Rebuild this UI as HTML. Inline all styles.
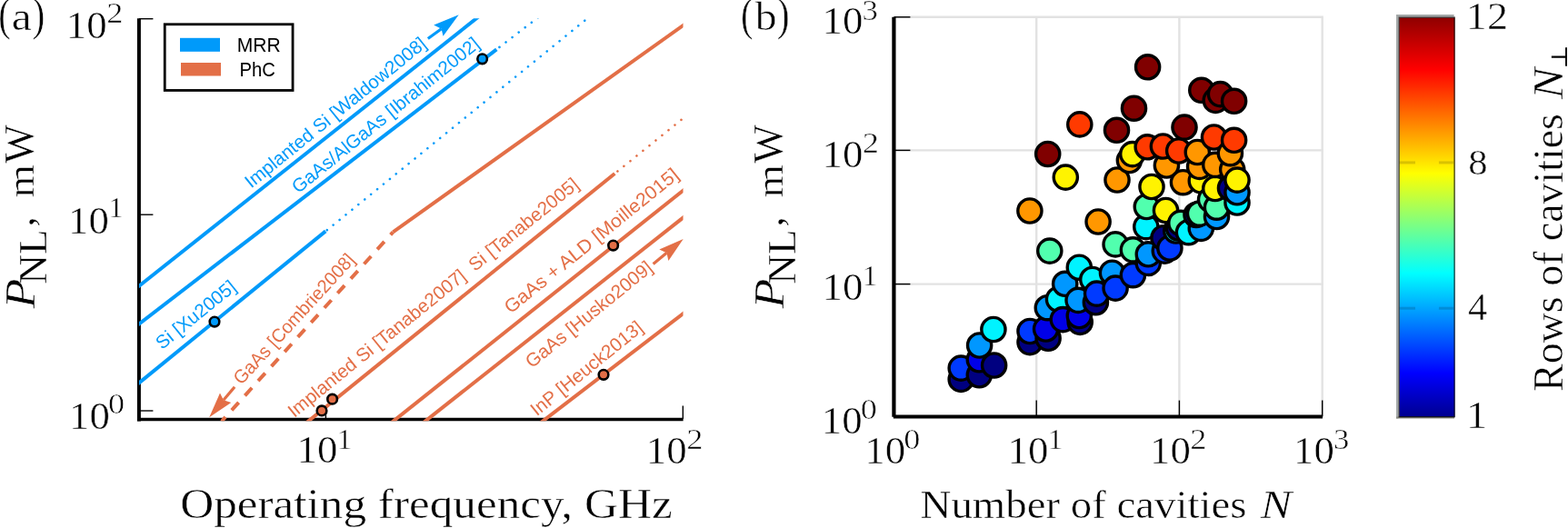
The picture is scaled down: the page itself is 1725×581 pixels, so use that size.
<!DOCTYPE html>
<html><head><meta charset="utf-8"><style>html,body{margin:0;padding:0;background:#fff;overflow:hidden}svg{display:block}</style></head><body>
<svg width="1725" height="581" viewBox="0 0 1725 581">
<rect width="1725" height="581" fill="#fff"/>
<defs><clipPath id="ca"><rect x="152.9" y="20.3" width="598.6" height="443"/></clipPath></defs>
<g stroke="#000">
<line x1="152.9" y1="20.3" x2="152.9" y2="463.5" stroke-width="4"/>
<line x1="151" y1="461.5" x2="751.6" y2="461.5" stroke-width="3.6"/>
<line x1="153" y1="20.7" x2="168.4" y2="20.7" stroke-width="1.4"/>
<line x1="153" y1="236.2" x2="168.4" y2="236.2" stroke-width="1.4"/>
<line x1="153" y1="452" x2="168.4" y2="452" stroke-width="1.4"/>
<line x1="358.4" y1="461" x2="358.4" y2="446.6" stroke-width="1.4"/>
<line x1="751.3" y1="461" x2="751.3" y2="446.6" stroke-width="1.4"/>
</g>
<g clip-path="url(#ca)" stroke-linecap="butt">
<line x1="134.24" y1="329.59" x2="542.59" y2="5.57" stroke="#009AFA" stroke-width="4"/>
<line x1="133.12" y1="371.72" x2="546.30" y2="54.30" stroke="#009AFA" stroke-width="4"/>
<line x1="546.30" y1="54.30" x2="606.30" y2="8.21" stroke="#009AFA" stroke-width="2.6" stroke-dasharray="0.01 8.9" stroke-dashoffset="-4" stroke-linecap="round"/>
<line x1="142.53" y1="429.75" x2="358.20" y2="254.40" stroke="#009AFA" stroke-width="4"/>
<line x1="358.20" y1="254.40" x2="658.20" y2="10.49" stroke="#009AFA" stroke-width="2.6" stroke-dasharray="0.01 8.9" stroke-dashoffset="-2" stroke-linecap="round"/>
<line x1="243.90" y1="463.50" x2="432.40" y2="255.30" stroke="#E36F47" stroke-width="4" stroke-dasharray="11.5 10.2" stroke-dashoffset="5.35"/>
<line x1="432.40" y1="255.30" x2="766.93" y2="16.95" stroke="#E36F47" stroke-width="4"/>
<line x1="324.87" y1="475.02" x2="676.30" y2="191.00" stroke="#E36F47" stroke-width="4"/>
<line x1="676.30" y1="191.00" x2="766.30" y2="118.26" stroke="#E36F47" stroke-width="2.6" stroke-dasharray="0.01 9.0" stroke-dashoffset="-4" stroke-linecap="round"/>
<line x1="419.34" y1="474.05" x2="766.16" y2="197.95" stroke="#E36F47" stroke-width="4"/>
<line x1="456.30" y1="472.56" x2="764.40" y2="229.34" stroke="#E36F47" stroke-width="4"/>
<line x1="592.07" y1="467.26" x2="757.73" y2="340.44" stroke="#E36F47" stroke-width="4"/>
</g>
<line x1="470.8" y1="42.5" x2="485.6" y2="31.7" stroke="#009AFA" stroke-width="3.2"/>
<polygon points="504.7,16.2 477.2,27.4 485.6,31.7 487.5,39.8" fill="#009AFA"/>
<line x1="258.1" y1="425.8" x2="245.9" y2="440.3" stroke="#E36F47" stroke-width="3.2"/>
<polygon points="230.2,459.3 242,432.6 245.9,440.3 254.3,443" fill="#E36F47"/>
<line x1="718.6" y1="290.4" x2="733.4" y2="278.2" stroke="#E36F47" stroke-width="3.2"/>
<polygon points="751.7,262.9 725.3,274.5 733.4,278.2 735.4,287" fill="#E36F47"/>
<circle cx="530.6" cy="64.8" r="5.3" fill="#009AFA" stroke="#000" stroke-width="2.6"/>
<circle cx="236" cy="354.1" r="5.3" fill="#009AFA" stroke="#000" stroke-width="2.6"/>
<circle cx="354" cy="451.9" r="5.3" fill="#E36F47" stroke="#000" stroke-width="2.6"/>
<circle cx="365.6" cy="439.2" r="5.3" fill="#E36F47" stroke="#000" stroke-width="2.6"/>
<circle cx="674.6" cy="270.1" r="5.3" fill="#E36F47" stroke="#000" stroke-width="2.6"/>
<circle cx="664" cy="412.3" r="5.3" fill="#E36F47" stroke="#000" stroke-width="2.6"/>
<rect x="181.25" y="26.75" width="140.8" height="72.7" fill="#fff" stroke="#000" stroke-width="2.8"/>
<rect x="198" y="41.8" width="44" height="15" fill="#009AFA"/>
<rect x="199" y="69" width="44" height="14.5" fill="#E36F47"/>
<text x="260.81" y="56.50" font-family='"Liberation Sans", "DejaVu Sans", sans-serif' font-size="21.74" fill="#000" textLength="47.98" lengthAdjust="spacingAndGlyphs">MRR</text>
<text x="263.48" y="83.50" font-family='"Liberation Sans", "DejaVu Sans", sans-serif' font-size="22.17" fill="#000" textLength="39.44" lengthAdjust="spacingAndGlyphs">PhC</text>
<text x="276.33" y="207.85" transform="rotate(-39.00 276.33 207.85)" font-family='"Liberation Sans", "DejaVu Sans", sans-serif' font-size="20.60" fill="#009AFA">Implanted Si [Waldow2008]</text>
<text x="328.02" y="213.56" transform="rotate(-39.00 328.02 213.56)" font-family='"Liberation Sans", "DejaVu Sans", sans-serif' font-size="20.60" fill="#009AFA">GaAs/AlGaAs [Ibrahim2002]</text>
<text x="178.33" y="385.15" transform="rotate(-39.00 178.33 385.15)" font-family='"Liberation Sans", "DejaVu Sans", sans-serif' font-size="20.60" fill="#009AFA">Si [Xu2005]</text>
<text x="265.54" y="424.37" transform="rotate(-47.50 265.54 424.37)" font-family='"Liberation Sans", "DejaVu Sans", sans-serif' font-size="20.60" fill="#E36F47" textLength="186.59" lengthAdjust="spacingAndGlyphs">GaAs [Combrie2008]</text>
<text x="323.67" y="460.24" transform="rotate(-39.00 323.67 460.24)" font-family='"Liberation Sans", "DejaVu Sans", sans-serif' font-size="20.60" fill="#E36F47">Implanted Si [Tanabe2007]</text>
<text x="522.53" y="299.20" transform="rotate(-39.00 522.53 299.20)" font-family='"Liberation Sans", "DejaVu Sans", sans-serif' font-size="20.60" fill="#E36F47">Si [Tanabe2005]</text>
<text x="561.67" y="345.80" transform="rotate(-39.00 561.67 345.80)" font-family='"Liberation Sans", "DejaVu Sans", sans-serif' font-size="20.60" fill="#E36F47" textLength="239.97" lengthAdjust="spacingAndGlyphs">GaAs + ALD [Moille2015]</text>
<text x="584.98" y="405.80" transform="rotate(-39.00 584.98 405.80)" font-family='"Liberation Sans", "DejaVu Sans", sans-serif' font-size="20.60" fill="#E36F47">GaAs [Husko2009]</text>
<text x="590.63" y="458.54" transform="rotate(-39.00 590.63 458.54)" font-family='"Liberation Sans", "DejaVu Sans", sans-serif' font-size="20.60" fill="#E36F47">InP [Heuck2013]</text>
<text x="72.87" y="42.20" font-family='"Liberation Serif", "DejaVu Serif", serif' font-size="43.16" fill="#000" textLength="44.83" lengthAdjust="spacingAndGlyphs" stroke="#fff" stroke-width="0.5">10</text>
<text x="117.17" y="25.40" font-family='"Liberation Serif", "DejaVu Serif", serif' font-size="30.83" fill="#000" textLength="18.12" lengthAdjust="spacingAndGlyphs" stroke="#fff" stroke-width="0.5">2</text>
<text x="74.97" y="256.90" font-family='"Liberation Serif", "DejaVu Serif", serif' font-size="43.16" fill="#000" textLength="44.83" lengthAdjust="spacingAndGlyphs" stroke="#fff" stroke-width="0.5">10</text>
<text x="118.94" y="238.60" font-family='"Liberation Serif", "DejaVu Serif", serif' font-size="30.83" fill="#000" textLength="17.00" lengthAdjust="spacingAndGlyphs" stroke="#fff" stroke-width="0.5">1</text>
<text x="76.07" y="471.60" font-family='"Liberation Serif", "DejaVu Serif", serif' font-size="43.16" fill="#000" textLength="44.83" lengthAdjust="spacingAndGlyphs" stroke="#fff" stroke-width="0.5">10</text>
<text x="119.05" y="455.10" font-family='"Liberation Serif", "DejaVu Serif", serif' font-size="30.83" fill="#000" textLength="18.10" lengthAdjust="spacingAndGlyphs" stroke="#fff" stroke-width="0.5">0</text>
<text x="326.47" y="509.20" font-family='"Liberation Serif", "DejaVu Serif", serif' font-size="43.16" fill="#000" textLength="44.83" lengthAdjust="spacingAndGlyphs" stroke="#fff" stroke-width="0.5">10</text>
<text x="370.44" y="493.60" font-family='"Liberation Serif", "DejaVu Serif", serif' font-size="30.83" fill="#000" textLength="17.00" lengthAdjust="spacingAndGlyphs" stroke="#fff" stroke-width="0.5">1</text>
<text x="710.87" y="509.50" font-family='"Liberation Serif", "DejaVu Serif", serif' font-size="43.16" fill="#000" textLength="44.83" lengthAdjust="spacingAndGlyphs" stroke="#fff" stroke-width="0.5">10</text>
<text x="755.17" y="493.90" font-family='"Liberation Serif", "DejaVu Serif", serif' font-size="30.83" fill="#000" textLength="18.12" lengthAdjust="spacingAndGlyphs" stroke="#fff" stroke-width="0.5">2</text>
<text x="-1.82" y="33.00" font-family='"Liberation Serif", "DejaVu Serif", serif' font-size="49.64" fill="#000" textLength="13.45" lengthAdjust="spacingAndGlyphs" stroke="#fff" stroke-width="0.5">(</text>
<text x="12.76" y="33.00" font-family='"Liberation Serif", "DejaVu Serif", serif' font-size="43.83" fill="#000" textLength="22.02" lengthAdjust="spacingAndGlyphs" stroke="#fff" stroke-width="0.5">a</text>
<text x="35.45" y="33.00" font-family='"Liberation Serif", "DejaVu Serif", serif' font-size="50.00" fill="#000" textLength="13.83" lengthAdjust="spacingAndGlyphs" stroke="#fff" stroke-width="0.5">)</text>
<text x="198.15" y="570.40" font-family='"Liberation Serif", "DejaVu Serif", serif' font-size="47.33" fill="#000" textLength="541.55" lengthAdjust="spacingAndGlyphs" stroke="#fff" stroke-width="0.5">Operating frequency, GHz</text>
<g transform="rotate(-90)">
<text x="-339.63" y="37.60" font-family='"Liberation Serif", "DejaVu Serif", serif' font-size="46.87" font-style="italic" fill="#000" textLength="32.82" lengthAdjust="spacingAndGlyphs" stroke="#fff" stroke-width="0.5">P</text>
<text x="-312.86" y="51.00" font-family='"Liberation Serif", "DejaVu Serif", serif' font-size="45.34" fill="#000" textLength="60.52" lengthAdjust="spacingAndGlyphs" stroke="#fff" stroke-width="0.5">NL</text>
<text x="-249.85" y="36.90" font-family='"Liberation Serif", "DejaVu Serif", serif' font-size="46.87" fill="#000" textLength="11.55" lengthAdjust="spacingAndGlyphs" stroke="#fff" stroke-width="0.5">,</text>
<text x="-217.64" y="36.90" font-family='"Liberation Serif", "DejaVu Serif", serif' font-size="42.77" fill="#000" textLength="36.47" lengthAdjust="spacingAndGlyphs" stroke="#fff" stroke-width="0.5">m</text>
<text x="-179.80" y="36.90" font-family='"Liberation Serif", "DejaVu Serif", serif' font-size="46.11" fill="#000" textLength="42.67" lengthAdjust="spacingAndGlyphs" stroke="#fff" stroke-width="0.5">W</text>
</g>
<g stroke="#e2e2e2" stroke-width="2.4">
<line x1="1140.2" y1="18.8" x2="1140.2" y2="458"/>
<line x1="1297.4" y1="18.8" x2="1297.4" y2="458"/>
<line x1="1454.7" y1="18.8" x2="1454.7" y2="458"/>
<line x1="984" y1="18.8" x2="1455.9" y2="18.8"/>
<line x1="984" y1="165.4" x2="1455.9" y2="165.4"/>
<line x1="984" y1="312.6" x2="1455.9" y2="312.6"/>
</g>
<circle cx="1057.2" cy="417.4" r="13.1" fill="#000080" stroke="#000" stroke-width="3.4"/>
<circle cx="1057.2" cy="405.1" r="13.1" fill="#003AFF" stroke="#000" stroke-width="3.4"/>
<circle cx="1077.3" cy="412.8" r="13.1" fill="#000080" stroke="#000" stroke-width="3.4"/>
<circle cx="1077.3" cy="395.8" r="13.1" fill="#0000E8" stroke="#000" stroke-width="3.4"/>
<circle cx="1077.6" cy="380" r="13.1" fill="#0097FF" stroke="#000" stroke-width="3.4"/>
<circle cx="1093.6" cy="402" r="13.1" fill="#000080" stroke="#000" stroke-width="3.4"/>
<circle cx="1092.9" cy="362.5" r="13.1" fill="#00F3FF" stroke="#000" stroke-width="3.4"/>
<circle cx="1133" cy="376.6" r="13.1" fill="#000080" stroke="#000" stroke-width="3.4"/>
<circle cx="1133" cy="364.5" r="13.1" fill="#003AFF" stroke="#000" stroke-width="3.4"/>
<circle cx="1132.9" cy="232" r="13.1" fill="#FF9700" stroke="#000" stroke-width="3.4"/>
<circle cx="1153.1" cy="372.3" r="13.1" fill="#000080" stroke="#000" stroke-width="3.4"/>
<circle cx="1150.6" cy="362" r="13.1" fill="#0000E8" stroke="#000" stroke-width="3.4"/>
<circle cx="1152.3" cy="338.7" r="13.1" fill="#0097FF" stroke="#000" stroke-width="3.4"/>
<circle cx="1154.8" cy="276.1" r="13.1" fill="#51FFAE" stroke="#000" stroke-width="3.4"/>
<circle cx="1152.7" cy="169.5" r="13.1" fill="#800000" stroke="#000" stroke-width="3.4"/>
<circle cx="1164.5" cy="329.2" r="13.1" fill="#00F3FF" stroke="#000" stroke-width="3.4"/>
<circle cx="1169.3" cy="351.6" r="13.1" fill="#0000E8" stroke="#000" stroke-width="3.4"/>
<circle cx="1171.7" cy="312.3" r="13.1" fill="#0097FF" stroke="#000" stroke-width="3.4"/>
<circle cx="1172.3" cy="195.1" r="13.1" fill="#FFF300" stroke="#000" stroke-width="3.4"/>
<circle cx="1188.2" cy="354.4" r="13.1" fill="#000080" stroke="#000" stroke-width="3.4"/>
<circle cx="1187.3" cy="347.5" r="13.1" fill="#0000E8" stroke="#000" stroke-width="3.4"/>
<circle cx="1186.1" cy="330.4" r="13.1" fill="#0097FF" stroke="#000" stroke-width="3.4"/>
<circle cx="1187.3" cy="294.2" r="13.1" fill="#00F3FF" stroke="#000" stroke-width="3.4"/>
<circle cx="1187.8" cy="136.9" r="13.1" fill="#FF3A00" stroke="#000" stroke-width="3.4"/>
<circle cx="1201.8" cy="307.5" r="13.1" fill="#00F3FF" stroke="#000" stroke-width="3.4"/>
<circle cx="1205.4" cy="332.8" r="13.1" fill="#000080" stroke="#000" stroke-width="3.4"/>
<circle cx="1206.6" cy="323.1" r="13.1" fill="#003AFF" stroke="#000" stroke-width="3.4"/>
<circle cx="1208.1" cy="244" r="13.1" fill="#FF9700" stroke="#000" stroke-width="3.4"/>
<circle cx="1223.5" cy="300.2" r="13.1" fill="#0097FF" stroke="#000" stroke-width="3.4"/>
<circle cx="1227.1" cy="317.1" r="13.1" fill="#003AFF" stroke="#000" stroke-width="3.4"/>
<circle cx="1227.1" cy="268.9" r="13.1" fill="#51FFAE" stroke="#000" stroke-width="3.4"/>
<circle cx="1229" cy="198" r="13.1" fill="#FF9700" stroke="#000" stroke-width="3.4"/>
<circle cx="1228.5" cy="143.3" r="13.1" fill="#800000" stroke="#000" stroke-width="3.4"/>
<circle cx="1242.4" cy="176.5" r="13.1" fill="#FF9700" stroke="#000" stroke-width="3.4"/>
<circle cx="1246.4" cy="302.7" r="13.1" fill="#003AFF" stroke="#000" stroke-width="3.4"/>
<circle cx="1246.4" cy="274.9" r="13.1" fill="#51FFAE" stroke="#000" stroke-width="3.4"/>
<circle cx="1245.8" cy="169.6" r="13.1" fill="#FFF300" stroke="#000" stroke-width="3.4"/>
<circle cx="1247.5" cy="119.2" r="13.1" fill="#800000" stroke="#000" stroke-width="3.4"/>
<circle cx="1263.3" cy="289.4" r="13.1" fill="#003AFF" stroke="#000" stroke-width="3.4"/>
<circle cx="1263.3" cy="279.8" r="13.1" fill="#0097FF" stroke="#000" stroke-width="3.4"/>
<circle cx="1260.8" cy="249.6" r="13.1" fill="#00F3FF" stroke="#000" stroke-width="3.4"/>
<circle cx="1261.3" cy="227.5" r="13.1" fill="#51FFAE" stroke="#000" stroke-width="3.4"/>
<circle cx="1262.2" cy="161.8" r="13.1" fill="#FF3A00" stroke="#000" stroke-width="3.4"/>
<circle cx="1262.6" cy="73.8" r="13.1" fill="#800000" stroke="#000" stroke-width="3.4"/>
<circle cx="1267" cy="205.5" r="13.1" fill="#FFF300" stroke="#000" stroke-width="3.4"/>
<circle cx="1281.3" cy="276.1" r="13.1" fill="#003AFF" stroke="#000" stroke-width="3.4"/>
<circle cx="1280" cy="261.7" r="13.1" fill="#000080" stroke="#000" stroke-width="3.4"/>
<circle cx="1282.5" cy="231.5" r="13.1" fill="#FFF300" stroke="#000" stroke-width="3.4"/>
<circle cx="1283.4" cy="182" r="13.1" fill="#FF9700" stroke="#000" stroke-width="3.4"/>
<circle cx="1279.4" cy="161" r="13.1" fill="#FF3A00" stroke="#000" stroke-width="3.4"/>
<circle cx="1286.9" cy="273" r="13.1" fill="#003AFF" stroke="#000" stroke-width="3.4"/>
<circle cx="1293.8" cy="254" r="13.1" fill="#00F3FF" stroke="#000" stroke-width="3.4"/>
<circle cx="1296.5" cy="251" r="13.1" fill="#000080" stroke="#000" stroke-width="3.4"/>
<circle cx="1298.9" cy="245.4" r="13.1" fill="#51FFAE" stroke="#000" stroke-width="3.4"/>
<circle cx="1301.5" cy="200.7" r="13.1" fill="#FF9700" stroke="#000" stroke-width="3.4"/>
<circle cx="1296.7" cy="166" r="13.1" fill="#FF3A00" stroke="#000" stroke-width="3.4"/>
<circle cx="1303" cy="140.1" r="13.1" fill="#800000" stroke="#000" stroke-width="3.4"/>
<circle cx="1307.5" cy="255.7" r="13.1" fill="#00F3FF" stroke="#000" stroke-width="3.4"/>
<circle cx="1321.3" cy="251.4" r="13.1" fill="#0097FF" stroke="#000" stroke-width="3.4"/>
<circle cx="1316" cy="236.5" r="13.1" fill="#000080" stroke="#000" stroke-width="3.4"/>
<circle cx="1319.6" cy="235.1" r="13.1" fill="#51FFAE" stroke="#000" stroke-width="3.4"/>
<circle cx="1321.3" cy="198.9" r="13.1" fill="#FFF300" stroke="#000" stroke-width="3.4"/>
<circle cx="1319.6" cy="183.4" r="13.1" fill="#FF9700" stroke="#000" stroke-width="3.4"/>
<circle cx="1317.3" cy="167.5" r="13.1" fill="#FF9700" stroke="#000" stroke-width="3.4"/>
<circle cx="1321.8" cy="99.3" r="13.1" fill="#800000" stroke="#000" stroke-width="3.4"/>
<circle cx="1331.6" cy="219.6" r="13.1" fill="#51FFAE" stroke="#000" stroke-width="3.4"/>
<circle cx="1338.5" cy="238.5" r="13.1" fill="#0097FF" stroke="#000" stroke-width="3.4"/>
<circle cx="1338.5" cy="228.2" r="13.1" fill="#51FFAE" stroke="#000" stroke-width="3.4"/>
<circle cx="1336.8" cy="207.5" r="13.1" fill="#FFF300" stroke="#000" stroke-width="3.4"/>
<circle cx="1336.8" cy="181.4" r="13.1" fill="#FF9700" stroke="#000" stroke-width="3.4"/>
<circle cx="1335.5" cy="151" r="13.1" fill="#FF3A00" stroke="#000" stroke-width="3.4"/>
<circle cx="1337.3" cy="110.4" r="13.1" fill="#800000" stroke="#000" stroke-width="3.4"/>
<circle cx="1342.5" cy="103.6" r="13.1" fill="#800000" stroke="#000" stroke-width="3.4"/>
<circle cx="1353.5" cy="207" r="13.1" fill="#000080" stroke="#000" stroke-width="3.4"/>
<circle cx="1355.7" cy="186.6" r="13.1" fill="#FF9700" stroke="#000" stroke-width="3.4"/>
<circle cx="1353.4" cy="168.7" r="13.1" fill="#FF9700" stroke="#000" stroke-width="3.4"/>
<circle cx="1357.6" cy="154.3" r="13.1" fill="#FF3A00" stroke="#000" stroke-width="3.4"/>
<circle cx="1357.6" cy="111.3" r="13.1" fill="#800000" stroke="#000" stroke-width="3.4"/>
<circle cx="1361" cy="223" r="13.1" fill="#00F3FF" stroke="#000" stroke-width="3.4"/>
<circle cx="1361" cy="211.8" r="13.1" fill="#0097FF" stroke="#000" stroke-width="3.4"/>
<circle cx="1361" cy="198.1" r="13.1" fill="#FFF300" stroke="#000" stroke-width="3.4"/>
<g stroke="#000">
<line x1="983.4" y1="18.8" x2="983.4" y2="458.8" stroke-width="4.2"/>
<line x1="982.8" y1="458.4" x2="1455" y2="458.4" stroke-width="4"/>
<line x1="983.4" y1="18.8" x2="1001.4" y2="18.8" stroke-width="1.4"/>
<line x1="983.4" y1="165.4" x2="1001.4" y2="165.4" stroke-width="1.4"/>
<line x1="983.4" y1="312.6" x2="1001.4" y2="312.6" stroke-width="1.4"/>
<line x1="1140.2" y1="458.4" x2="1140.2" y2="440.6" stroke-width="1.4"/>
<line x1="1297.4" y1="458.4" x2="1297.4" y2="440.6" stroke-width="1.4"/>
<line x1="1454.7" y1="458.4" x2="1454.7" y2="440.6" stroke-width="1.4"/>
</g>
<text x="904.47" y="36.90" font-family='"Liberation Serif", "DejaVu Serif", serif' font-size="43.16" fill="#000" textLength="44.83" lengthAdjust="spacingAndGlyphs" stroke="#fff" stroke-width="0.5">10</text>
<text x="948.57" y="21.80" font-family='"Liberation Serif", "DejaVu Serif", serif' font-size="30.83" fill="#000" textLength="17.32" lengthAdjust="spacingAndGlyphs" stroke="#fff" stroke-width="0.5">3</text>
<text x="904.57" y="183.60" font-family='"Liberation Serif", "DejaVu Serif", serif' font-size="43.16" fill="#000" textLength="44.83" lengthAdjust="spacingAndGlyphs" stroke="#fff" stroke-width="0.5">10</text>
<text x="948.87" y="168.30" font-family='"Liberation Serif", "DejaVu Serif", serif' font-size="30.83" fill="#000" textLength="18.12" lengthAdjust="spacingAndGlyphs" stroke="#fff" stroke-width="0.5">2</text>
<text x="904.47" y="329.80" font-family='"Liberation Serif", "DejaVu Serif", serif' font-size="43.16" fill="#000" textLength="44.83" lengthAdjust="spacingAndGlyphs" stroke="#fff" stroke-width="0.5">10</text>
<text x="948.44" y="314.20" font-family='"Liberation Serif", "DejaVu Serif", serif' font-size="30.83" fill="#000" textLength="17.00" lengthAdjust="spacingAndGlyphs" stroke="#fff" stroke-width="0.5">1</text>
<text x="903.87" y="476.50" font-family='"Liberation Serif", "DejaVu Serif", serif' font-size="43.16" fill="#000" textLength="44.83" lengthAdjust="spacingAndGlyphs" stroke="#fff" stroke-width="0.5">10</text>
<text x="946.85" y="461.30" font-family='"Liberation Serif", "DejaVu Serif", serif' font-size="30.83" fill="#000" textLength="18.10" lengthAdjust="spacingAndGlyphs" stroke="#fff" stroke-width="0.5">0</text>
<text x="951.37" y="509.50" font-family='"Liberation Serif", "DejaVu Serif", serif' font-size="43.16" fill="#000" textLength="44.83" lengthAdjust="spacingAndGlyphs" stroke="#fff" stroke-width="0.5">10</text>
<text x="994.35" y="493.90" font-family='"Liberation Serif", "DejaVu Serif", serif' font-size="30.83" fill="#000" textLength="18.10" lengthAdjust="spacingAndGlyphs" stroke="#fff" stroke-width="0.5">0</text>
<text x="1108.57" y="509.50" font-family='"Liberation Serif", "DejaVu Serif", serif' font-size="43.16" fill="#000" textLength="44.83" lengthAdjust="spacingAndGlyphs" stroke="#fff" stroke-width="0.5">10</text>
<text x="1152.54" y="493.90" font-family='"Liberation Serif", "DejaVu Serif", serif' font-size="30.83" fill="#000" textLength="17.00" lengthAdjust="spacingAndGlyphs" stroke="#fff" stroke-width="0.5">1</text>
<text x="1264.97" y="509.50" font-family='"Liberation Serif", "DejaVu Serif", serif' font-size="43.16" fill="#000" textLength="44.83" lengthAdjust="spacingAndGlyphs" stroke="#fff" stroke-width="0.5">10</text>
<text x="1309.27" y="493.90" font-family='"Liberation Serif", "DejaVu Serif", serif' font-size="30.83" fill="#000" textLength="18.12" lengthAdjust="spacingAndGlyphs" stroke="#fff" stroke-width="0.5">2</text>
<text x="1422.97" y="509.50" font-family='"Liberation Serif", "DejaVu Serif", serif' font-size="43.16" fill="#000" textLength="44.83" lengthAdjust="spacingAndGlyphs" stroke="#fff" stroke-width="0.5">10</text>
<text x="1467.07" y="493.90" font-family='"Liberation Serif", "DejaVu Serif", serif' font-size="30.83" fill="#000" textLength="17.32" lengthAdjust="spacingAndGlyphs" stroke="#fff" stroke-width="0.5">3</text>
<text x="815.08" y="33.10" font-family='"Liberation Serif", "DejaVu Serif", serif' font-size="49.64" fill="#000" textLength="13.45" lengthAdjust="spacingAndGlyphs" stroke="#fff" stroke-width="0.5">(</text>
<text x="830.70" y="33.10" font-family='"Liberation Serif", "DejaVu Serif", serif' font-size="43.31" fill="#000" textLength="23.80" lengthAdjust="spacingAndGlyphs" stroke="#fff" stroke-width="0.5">b</text>
<text x="854.75" y="33.10" font-family='"Liberation Serif", "DejaVu Serif", serif' font-size="50.00" fill="#000" textLength="13.83" lengthAdjust="spacingAndGlyphs" stroke="#fff" stroke-width="0.5">)</text>
<text x="1012.60" y="569.70" font-family='"Liberation Serif", "DejaVu Serif", serif' font-size="44.73" fill="#000" textLength="358.90" lengthAdjust="spacingAndGlyphs" stroke="#fff" stroke-width="0.5">Number of cavities</text>
<text x="1386.76" y="569.70" font-family='"Liberation Serif", "DejaVu Serif", serif' font-size="44.73" font-style="italic" fill="#000" textLength="34.28" lengthAdjust="spacingAndGlyphs" stroke="#fff" stroke-width="0.5">N</text>
<g transform="rotate(-90)">
<text x="-339.63" y="861.60" font-family='"Liberation Serif", "DejaVu Serif", serif' font-size="46.87" font-style="italic" fill="#000" textLength="32.82" lengthAdjust="spacingAndGlyphs" stroke="#fff" stroke-width="0.5">P</text>
<text x="-312.86" y="875.00" font-family='"Liberation Serif", "DejaVu Serif", serif' font-size="45.34" fill="#000" textLength="60.52" lengthAdjust="spacingAndGlyphs" stroke="#fff" stroke-width="0.5">NL</text>
<text x="-249.85" y="860.90" font-family='"Liberation Serif", "DejaVu Serif", serif' font-size="46.87" fill="#000" textLength="11.55" lengthAdjust="spacingAndGlyphs" stroke="#fff" stroke-width="0.5">,</text>
<text x="-217.64" y="860.90" font-family='"Liberation Serif", "DejaVu Serif", serif' font-size="42.77" fill="#000" textLength="36.47" lengthAdjust="spacingAndGlyphs" stroke="#fff" stroke-width="0.5">m</text>
<text x="-179.80" y="860.90" font-family='"Liberation Serif", "DejaVu Serif", serif' font-size="46.11" fill="#000" textLength="42.67" lengthAdjust="spacingAndGlyphs" stroke="#fff" stroke-width="0.5">W</text>
</g>
<defs><linearGradient id="jet" x1="0" y1="1" x2="0" y2="0"><stop offset="0" stop-color="#00008F"/><stop offset="0.11" stop-color="#0000FF"/><stop offset="0.36" stop-color="#00FFFF"/><stop offset="0.61" stop-color="#FFFF00"/><stop offset="0.87" stop-color="#FF0000"/><stop offset="1" stop-color="#8F0000"/></linearGradient></defs>
<rect x="1539.4" y="19.4" width="61" height="439.6" fill="url(#jet)"/>
<path d="M1537.2 460.6 V17.2 H1599.6" fill="none" stroke="#a4a9a9" stroke-width="2.4"/>
<path d="M1536 459.6 H1600" fill="none" stroke="#8a8a80" stroke-width="2"/>
<rect x="1539.1" y="19.1" width="61" height="439.6" fill="none" stroke="rgba(0,0,0,0.72)" stroke-width="1.4"/>
<line x1="1539.5" y1="178.9" x2="1557" y2="178.9" stroke="rgba(0,0,0,0.15)" stroke-width="3"/>
<line x1="1582.9" y1="178.9" x2="1599" y2="178.9" stroke="rgba(0,0,0,0.15)" stroke-width="3"/>
<line x1="1539.5" y1="339.2" x2="1557" y2="339.2" stroke="rgba(0,0,0,0.15)" stroke-width="3"/>
<line x1="1582.9" y1="339.2" x2="1599" y2="339.2" stroke="rgba(0,0,0,0.15)" stroke-width="3"/>
<text x="1612.85" y="32.20" font-family='"Liberation Serif", "DejaVu Serif", serif' font-size="41.21" fill="#000" textLength="46.08" lengthAdjust="spacingAndGlyphs" stroke="#fff" stroke-width="0.5">12</text>
<text x="1615.30" y="192.00" font-family='"Liberation Serif", "DejaVu Serif", serif' font-size="40.90" fill="#000" textLength="21.31" lengthAdjust="spacingAndGlyphs" stroke="#fff" stroke-width="0.5">8</text>
<text x="1615.05" y="352.40" font-family='"Liberation Serif", "DejaVu Serif", serif' font-size="41.21" fill="#000" textLength="21.29" lengthAdjust="spacingAndGlyphs" stroke="#fff" stroke-width="0.5">4</text>
<text x="1612.73" y="471.40" font-family='"Liberation Serif", "DejaVu Serif", serif' font-size="41.21" fill="#000" textLength="23.71" lengthAdjust="spacingAndGlyphs" stroke="#fff" stroke-width="0.5">1</text>
<g transform="rotate(-90)">
<text x="-430.78" y="1718.70" font-family='"Liberation Serif", "DejaVu Serif", serif' font-size="46.26" fill="#000" textLength="305.60" lengthAdjust="spacingAndGlyphs" stroke="#fff" stroke-width="0.5">Rows of cavities</text>
<text x="-108.94" y="1718.70" font-family='"Liberation Serif", "DejaVu Serif", serif' font-size="46.56" font-style="italic" fill="#000" textLength="34.46" lengthAdjust="spacingAndGlyphs" stroke="#fff" stroke-width="0.5">N</text>
<text x="-75.96" y="1723.50" font-family='"DejaVu Serif", serif' font-size="24.93" fill="#000" textLength="26.54" lengthAdjust="spacingAndGlyphs">⊥</text>
</g>
</svg>
</body></html>
